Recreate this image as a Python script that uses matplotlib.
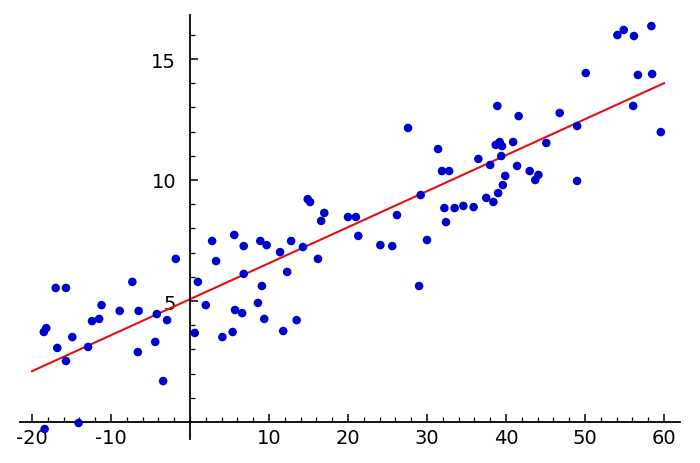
import matplotlib
matplotlib.use("Agg")
import matplotlib.pyplot as plt
import numpy as np

plt.rcParams['axes.unicode_minus'] = False

x = [-18.5,-18.2,-17.0,-15.7,-16.8,-15.7,-14.9,-14.1,-12.9,-12.4,-11.5,-11.2,-8.9,-7.3,-6.5,-6.6,-4.4,-4.2,-3.4,-2.9,-1.8,
     0.6,1.0,2.0,2.8,3.3,4.1,5.4,5.6,5.7,6.6,6.8,6.8,8.6,8.9,9.1,9.4,9.7,11.4,11.8,12.3,12.8,13.5,14.3,14.9,15.2,16.2,16.6,17.0,
     20.0,21.0,21.3,24.1,25.6,26.2,27.6,29.0,29.2,30.0,31.4,31.9,32.2,32.4,32.8,33.5,34.6,35.9,36.5,37.5,38.0,38.4,38.7,38.9,
     39.2,39.5,39.6,39.0,39.4,39.9,40.9,41.4,41.6,43.0,43.7,44.1,45.1,46.8,49.0,49.0,50.1,54.1,54.9,56.2,56.1,56.7,58.4,58.5,59.6,-18.4]
y = [3.72,3.88,5.54,5.54,3.06,2.52,3.51,-0.04,3.10,4.17,4.26,4.83,4.59,5.79,4.59,2.89,3.31,4.46,1.69,4.21,6.74,
     3.68,5.79,4.83,7.48,6.65,3.51,3.72,7.73,4.63,4.50,7.27,6.12,4.92,7.48,5.62,4.26,7.31,7.02,3.76,6.20,7.48,4.21,7.23,9.21,9.09,6.74,8.31,8.64,
     8.47,8.47,7.69,7.31,7.27,8.55,12.15,5.62,9.38,7.52,11.28,10.37,8.84,8.26,10.37,8.84,8.93,8.88,10.87,9.26,10.62,9.09,11.45,13.06,
     11.57,11.40,9.79,9.46,10.99,10.17,11.57,10.58,12.64,10.37,10.00,10.21,11.53,12.77,12.23,9.96,14.42,15.99,16.20,15.95,13.06,14.34,16.36,14.38,11.98,-0.29]
line_x = [-20, 60]
line_y = [2.1, 14.0]
xticks = [-20, -10, 10, 20, 30, 40, 50, 60]
yticks = [5, 10, 15]

fig = plt.figure(figsize=(7, 4.64), dpi=100)
ax = fig.add_axes([0, 0, 1, 1])
ax.set_xlim(-190/7.9, 510/7.9)
ax.set_ylim(-41/24.2, 423/24.2)
ax.plot(line_x, line_y, color='#dd1111', lw=1.5, zorder=2)
ax.scatter(x, y, s=38, color='#0000cc', zorder=3, edgecolors='none')
for s in ['top', 'right']:
    ax.spines[s].set_visible(False)
ax.spines['left'].set_position(('data', 0))
ax.spines['bottom'].set_position(('data', 0))
ax.spines['left'].set_bounds(-0.7, 16.8)
ax.spines['bottom'].set_bounds(-21.5, 62)
for s in ['left', 'bottom']:
    ax.spines[s].set_linewidth(1.3)
ax.set_xticks(xticks)
ax.set_yticks(yticks)
ax.set_xticks(np.arange(-20, 61, 2), minor=True)
ax.set_yticks(np.arange(1, 17, 1), minor=True)
ax.tick_params(which='major', direction='in', length=6, width=1.1, labelsize=14)
ax.tick_params(which='minor', direction='in', length=3.5, width=0.9)
ax.tick_params(axis='x', pad=4)
ax.tick_params(axis='y', pad=10)
fig.savefig("out.png", dpi=100)
